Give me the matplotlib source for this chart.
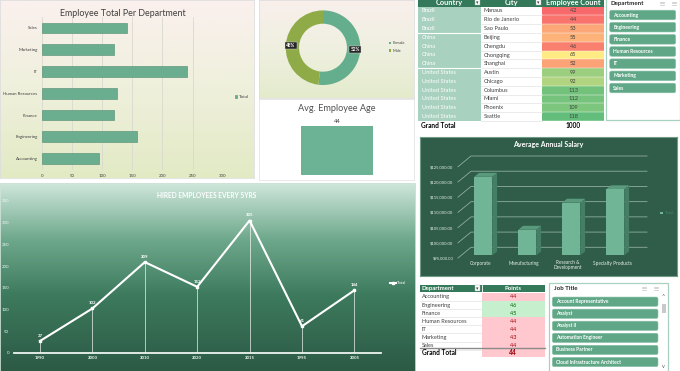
import numpy as np
import matplotlib
matplotlib.use("Agg")
import matplotlib.pyplot as plt
from matplotlib.colors import LinearSegmentedColormap, to_rgb
from matplotlib.patches import Rectangle, FancyBboxPatch, Polygon

plt.rcParams['font.family'] = ['Lato', 'DejaVu Sans']

W, H = 680, 371

# ---------------- данные ----------------
departments = ['Accounting', 'Engineering', 'Finance', 'Human Resources', 'IT', 'Marketing', 'Sales']
dept_totals = [95, 158, 120, 125, 241, 120, 141]

genders = ['Female', 'Male']
gender_share = [52, 48]

avg_age = 44

countries = ['Brazil'] * 3 + ['China'] * 4 + ['United States'] * 6
cities = ['Manaus', 'Rio de Janerio', 'Sao Paulo', 'Beijing', 'Chengdu', 'Chongqing', 'Shanghai',
          'Austin', 'Chicago', 'Columbus', 'Miami', 'Phoenix', 'Seattle']
city_counts = [42, 44, 53, 55, 46, 65, 52, 99, 92, 113, 112, 109, 118]
grand_total = 1000

sal_groups = ['Corporate', 'Manufacturing', 'Research &\nDevelopment', 'Specialty Products']
avg_salary = [120800, 103400, 112300, 116700]
sal_ticks = [95000, 100000, 105000, 110000, 115000, 120000, 125000]

hire_years = ['1990', '2000', '2010', '2020', '2015', '1995', '2005']
hired = [27, 102, 209, 152, 305, 61, 144]

dept_points = [44, 46, 45, 44, 44, 43, 44]
points_total = 44

job_titles = ['Account Representative', 'Analyst', 'Analyst II', 'Automation Engineer',
              'Business Partner', 'Cloud Infrastructure Architect']

# ---------------- цвета ----------------
DARK = '#33795a'
BTN = '#5fa787'
LIGHT_TEAL = '#a9d1c0'
TXT = '#404040'

fig = plt.figure(figsize=(W / 100, H / 100), dpi=100)


def px_axes(x0, y0, x1, y1):
    ax = fig.add_axes([x0 / W, 1 - y1 / H, (x1 - x0) / W, (y1 - y0) / H])
    ax.set_facecolor('none')
    return ax


def panel(x0, y0, x1, y1, colors, edge='#dedede'):
    ax = px_axes(x0, y0, x1, y1)
    cmap = LinearSegmentedColormap.from_list('', colors)
    ax.imshow(np.linspace(0, 1, 256)[:, None], aspect='auto', cmap=cmap, extent=[0, 1, 0, 1])
    ax.set_xlim(0, 1)
    ax.set_ylim(0, 1)
    ax.set_xticks([])
    ax.set_yticks([])
    for s in ax.spines.values():
        s.set_color(edge)
        s.set_linewidth(0.6)
    return ax


def no_spines(ax):
    for s in ax.spines.values():
        s.set_visible(False)


# ---------------- 1. Employee Total Per Department ----------------
panel(0, 0, 254, 178, ['#fbf0ee', '#eff0dc', '#e2eac4'])
ax = px_axes(41.7, 17, 222.7, 169.5)
yy = np.arange(len(departments))
bars = ax.barh(yy, dept_totals, height=0.49, color='#6aae8f', edgecolor='#4f8c70', lw=0.4, zorder=3)
ax.set_xlim(0, 300)
ax.set_ylim(-0.5, len(departments) - 0.5)
ax.set_xticks(range(0, 301, 50))
ax.set_yticks(yy, departments)
ax.grid(axis='x', color='#d9d9cf', lw=0.6)
ax.set_axisbelow(True)
ax.tick_params(length=0, labelsize=3.2, colors=TXT, pad=3)
no_spines(ax)
ax.legend([bars], ['Total'], loc='center left', bbox_to_anchor=(231 / W, 1 - 97 / H),
          bbox_transform=fig.transFigure, frameon=False, fontsize=3.2, handlelength=0.5,
          handleheight=0.5, handletextpad=0.4, labelcolor=TXT)

# ---------------- 2. Donut ----------------
panel(259, 0, 414, 98, ['#f9efec', '#eff0e0', '#e4ebcc'])
ax = px_axes(283, 7.7, 363, 87.7)
wedges, _, pct = ax.pie(gender_share, colors=['#64ad8d', '#8fab48'], startangle=90, counterclock=False,
                        radius=37.3 / 40, wedgeprops=dict(width=13.3 / 40, edgecolor='none'),
                        autopct=lambda p: f'{p:.0f}%', pctdistance=0.86)
for t in pct:
    t.set_fontsize(3.4)
    t.set_color('white')
    t.set_fontweight('bold')
    t.set_bbox(dict(boxstyle='square,pad=0.25', fc='#262626', ec='#dddddd', lw=0.3))
ax.set_xlim(-1, 1)
ax.set_ylim(-1, 1)
ax.legend(wedges, genders, loc='center left', bbox_to_anchor=(385 / W, 1 - 47 / H),
          bbox_transform=fig.transFigure, frameon=False, fontsize=2.9, handlelength=0.5,
          handleheight=0.5, handletextpad=0.4, labelspacing=0.9, labelcolor=TXT)

# ---------------- 3. Avg. Employee Age ----------------
axw = px_axes(259, 99, 414, 180)
axw.set_facecolor('white')
axw.set_xticks([])
axw.set_yticks([])
for s in axw.spines.values():
    s.set_color('#e4e4e4')
    s.set_linewidth(0.6)
ax = px_axes(301, 126, 373, 175)
b = ax.bar([0], [avg_age], width=1, color='#6cb294')
g = ax.imshow(np.linspace(0, 1, 100)[:, None], extent=[-0.5, 0.5, 0, avg_age], aspect='auto',
              cmap=LinearSegmentedColormap.from_list('', ['#7dbba1', '#5a9e80']))
g.set_clip_path(b[0])
ax.set_xlim(-0.5, 0.5)
ax.set_ylim(0, avg_age)
ax.annotate(f'{avg_age}', (0, avg_age), xytext=(0, 1.6), textcoords='offset points',
            ha='center', va='bottom', fontsize=4.2, color=TXT)
ax.axis('off')

# ---------------- 6. Average Annual Salary ----------------
axs = px_axes(420, 137, 677, 276)
axs.set_facecolor('#2f5d49')
axs.set_xticks([])
axs.set_yticks([])
for s in axs.spines.values():
    s.set_color('#6f9a85')
    s.set_linewidth(0.8)

ax = px_axes(458, 166.7, 634, 258)
ax.set_xlim(-0.5, 3.5)
ax.set_ylim(95000, 125000)
ppx = 176 / 4.0
ppy = 91.3 / 30000
Dx, Dy = 13 / ppx, 10.7 / ppy
for v in sal_ticks:
    ax.plot([-0.5, -0.5 + Dx, 3.5 + Dx], [v, v + Dy, v + Dy], color='#8fae9f', lw=0.6,
            clip_on=False, zorder=1)
f, bk, w = 0.25, 0.62, 0.41
for i, v in enumerate(avg_salary):
    xl = i - w / 2 + f * Dx
    xr = xl + w
    yb = 95000 + f * Dy
    yt = v + f * Dy
    ddx, ddy = (bk - f) * Dx, (bk - f) * Dy
    ax.add_patch(Polygon([(xr, yb), (xr + ddx, yb + ddy), (xr + ddx, yt + ddy), (xr, yt)],
                         closed=True, fc='#447f65', ec='none', zorder=2, clip_on=False))
    ax.add_patch(Polygon([(xl, yt), (xr, yt), (xr + ddx, yt + ddy), (xl + ddx, yt + ddy)],
                         closed=True, fc='#5a9a7c', ec='none', zorder=2, clip_on=False))
    ax.add_patch(Rectangle((xl, yb), w, v - 95000, fc='#6fb596', ec='none', zorder=3, clip_on=False))
ax.set_yticks(sal_ticks, [f'${v:,.2f}' for v in sal_ticks])
ax.set_xticks(range(len(sal_groups)), sal_groups)
ax.tick_params(length=0, labelsize=3.0, colors='#e6eee9')
ax.tick_params(axis='y', pad=3.5)
ax.tick_params(axis='x', pad=1.8, labelsize=3.4)
for t in ax.get_xticklabels():
    t.set_linespacing(1.0)
no_spines(ax)
ax.plot([0], [0])

# ---------------- 7. Hired employees ----------------
panel(0, 183, 415, 371, [(0, '#cfe7db'), (0.3, '#6ea88c'), (0.6, '#3d7a5d'), (1, '#2c5a45')],
      edge='#cfe3d8')
ax = px_axes(13.8, 201, 380.6, 352.7)
xs = np.arange(len(hire_years))
ax.vlines(xs, 0, hired, color='white', lw=0.6, alpha=0.75)
ln, = ax.plot(xs, hired, color='white', lw=1.5, marker='s', ms=1.8, label='Total')
for x, v in zip(xs, hired):
    ax.annotate(str(v), (x, v), xytext=(0, 2.2), textcoords='offset points', ha='center',
                va='bottom', fontsize=3.2, color='white', fontweight='bold')
ax.set_xlim(-0.5, len(hire_years) - 0.5)
ax.set_ylim(0, 350)
ax.set_yticks(range(0, 351, 50))
ax.set_xticks(xs, hire_years)
ax.tick_params(length=0, labelsize=3.2, colors='#eef5f1')
ax.tick_params(axis='x', pad=2.6)
for t in ax.get_xticklabels():
    t.set_fontweight('bold')
for k in ['top', 'right', 'left']:
    ax.spines[k].set_visible(False)
ax.spines['bottom'].set_color('#eef5f1')
ax.spines['bottom'].set_linewidth(1.3)
ax.legend(handles=[ln], loc='center left', bbox_to_anchor=(386 / W, 1 - 283 / H),
          bbox_transform=fig.transFigure, frameon=False, fontsize=3.0, handlelength=1.4,
          handletextpad=0.3, labelcolor='white')

# ---------------- таблицы и срезы (в пикселях) ----------------
ax = fig.add_axes([0, 0, 1, 1])
ax.set_facecolor('none')
ax.set_xlim(0, W)
ax.set_ylim(H, 0)
ax.axis('off')

titles = [(123, 13, 'Employee Total Per Department', 6.4, '#404040', 'normal'),
          (336.5, 108.3, 'Avg. Employee Age', 6.6, '#505050', 'normal'),
          (548.7, 145, 'Average Annual Salary', 5.0, 'white', 'bold'),
          (207, 195, 'HIRED EMPLOYEES EVERY 5YRS', 4.8, 'white', 'bold')]
for x, y, s, fs, c, fw in titles:
    ax.text(x, y, s, fontsize=fs, color=c, fontweight=fw, ha='center', va='center')

# legend of salary chart
ax.add_patch(Rectangle((660, 211.5), 2.6, 2.6, fc='#6fb596', ec='none'))
ax.text(664.5, 212.8, 'Total', fontsize=2.8, color='#4f7f69', va='center')


def filter_btn(x, y):
    ax.add_patch(Rectangle((x, y - 3), 5.5, 6, fc='white', ec='#b0b0b0', lw=0.3))
    ax.text(x + 2.75, y, '▾', fontsize=3.5, color='#404040', ha='center', va='center',
            family=['DejaVu Sans'])


# --- Country / City table ---
c0, c1, c2, c3 = 418, 481, 542, 604
rh, r0 = 8.8, 6.6
ax.add_patch(Rectangle((c0, -3), c3 - c0, r0 + 3, fc=DARK, ec='none'))
ax.text((c0 + c1) / 2, 2.2, 'Country', fontsize=5.3, color='white', fontweight='bold', ha='center', va='center')
ax.text((c1 + c2) / 2, 2.2, 'City', fontsize=5.3, color='white', fontweight='bold', ha='center', va='center')
ax.text((c2 + c3) / 2, 2.2, 'Employee Count', fontsize=5.3, color='white', fontweight='bold',
        ha='center', va='center')
filter_btn(474.5, 2.2)
filter_btn(535.5, 2.2)

lo, mid, hi = min(city_counts), float(np.median(city_counts)), max(city_counts)
red, yel, grn = map(np.array, map(to_rgb, ['#f8696b', '#ffeb84', '#63be7b']))


def scale3(v):
    if v <= mid:
        t = (v - lo) / (mid - lo)
        return red + (yel - red) * t
    t = (v - mid) / (hi - mid)
    return yel + (grn - yel) * t


for i, (co, ci, n) in enumerate(zip(countries, cities, city_counts)):
    top = r0 + i * rh
    cy = top + rh / 2
    ax.add_patch(Rectangle((c0, top), c1 - c0, rh, fc=LIGHT_TEAL, ec='none'))
    ax.add_patch(Rectangle((c2, top), c3 - c2, rh, fc=scale3(n), ec='none'))
    ax.text(c0 + 3.5, cy, co, fontsize=4.1, color='white', va='center')
    ax.text(c1 + 2.5, cy, ci, fontsize=4.1, color=TXT, va='center')
    ax.text((c2 + c3) / 2, cy, str(n), fontsize=4.1, color=TXT, va='center', ha='center')
    ax.plot([c1, c2], [top + rh, top + rh], color='#dcdcdc', lw=0.4)
    ax.plot([c2, c3], [top + rh, top + rh], color='white', lw=0.3)
    if i > 0 and countries[i - 1] != co:
        ax.plot([c0, c1], [top, top], color='white', lw=0.8)
gy = r0 + len(cities) * rh + 4.5
ax.text(c0 + 3, gy, 'Grand Total', fontsize=4.7, fontweight='bold', color='black', va='center')
ax.text((c2 + c3) / 2, gy, str(grand_total), fontsize=4.7, fontweight='bold', color='black',
        va='center', ha='center')


# --- slicers ---
def slicer(x0, y0, x1, y1, title, items, bx0, bx1, by0, step, bh, fs):
    ax.add_patch(Rectangle((x0, y0), x1 - x0, y1 - y0, fc='white', ec=LIGHT_TEAL, lw=0.9))
    ax.text(x0 + 4.5, y0 + 5.5, title, fontsize=4.4, fontweight='bold', color='#262626', va='center')
    for k, xi in enumerate([bx1 - 16, bx1 - 4]):
        for j in range(3):
            ax.plot([xi, xi + 4], [y0 + 3.5 + j * 1.6] * 2, color='#c4c4c4', lw=0.5)
    for i, s in enumerate(items):
        cy = by0 + i * step
        ax.add_patch(FancyBboxPatch((bx0, cy - bh / 2), bx1 - bx0, bh,
                                    boxstyle='round,pad=0,rounding_size=1.8',
                                    fc=BTN, ec='#8cc3aa', lw=0.4))
        ax.text(bx0 + 3.5, cy, s, fontsize=fs, fontweight='bold', color='white', va='center')


slicer(606, -2, 680, 120, 'Department', departments, 609.7, 675.7, 15, 12.17, 9.6, 3.6)
slicer(549, 283, 668, 372, 'Job Title', job_titles, 552.3, 658, 301.7, 12.06, 9.3, 3.5)
ax.text(663.5, 296, '^', fontsize=4, color='#555555', ha='center', va='center')
ax.add_patch(Rectangle((661.5, 304), 4, 9, fc='#c9c9c9', ec='none'))
ax.text(663.5, 366, 'v', fontsize=4, color='#555555', ha='center', va='center')

# --- Department / Points table ---
d0, d1, d2 = 420, 481.5, 544.5
ax.add_patch(Rectangle((d0, 284.7), d2 - d0, 7.3, fc=DARK, ec='none'))
ax.plot([d1, d1], [284.7, 292], color='white', lw=0.6)
ax.text(d0 + 2, 288.4, 'Department', fontsize=4.3, color='white', fontweight='bold', va='center')
ax.text((d1 + d2) / 2, 288.4, 'Points', fontsize=4.3, color='white', fontweight='bold',
        ha='center', va='center')
filter_btn(474.5, 288.4)
prh, pr0 = 8.1, 292.9
for i, (dname, p) in enumerate(zip(departments, dept_points)):
    top = pr0 + i * prh
    cy = top + prh / 2
    good = p > points_total
    ax.add_patch(Rectangle((d1, top), d2 - d1, prh, fc='#c6efce' if good else '#ffc7ce', ec='none'))
    ax.text(d0 + 1.5, cy, dname, fontsize=4.1, color=TXT, va='center')
    ax.text((d1 + d2) / 2, cy, str(p), fontsize=4.1, color='#006100' if good else '#9c0006',
            va='center', ha='center')
    ax.plot([d0, d1], [top + prh, top + prh], color='#dcdcdc', lw=0.4)
gt = pr0 + len(departments) * prh
ax.add_patch(Rectangle((d1, gt - 1.5), d2 - d1, 9, fc='#ffc7ce', ec='none'))
ax.plot([d0, d2], [gt - 1.5, gt - 1.5], color='#8a8a8a', lw=1.0)
ax.text(d0 + 2, gt + 3, 'Grand Total', fontsize=4.7, fontweight='bold', color='black', va='center')
ax.text((d1 + d2) / 2, gt + 3, str(points_total), fontsize=4.7, fontweight='bold', color='#9c0006',
        va='center', ha='center')

fig.savefig('out.png', dpi=100)
